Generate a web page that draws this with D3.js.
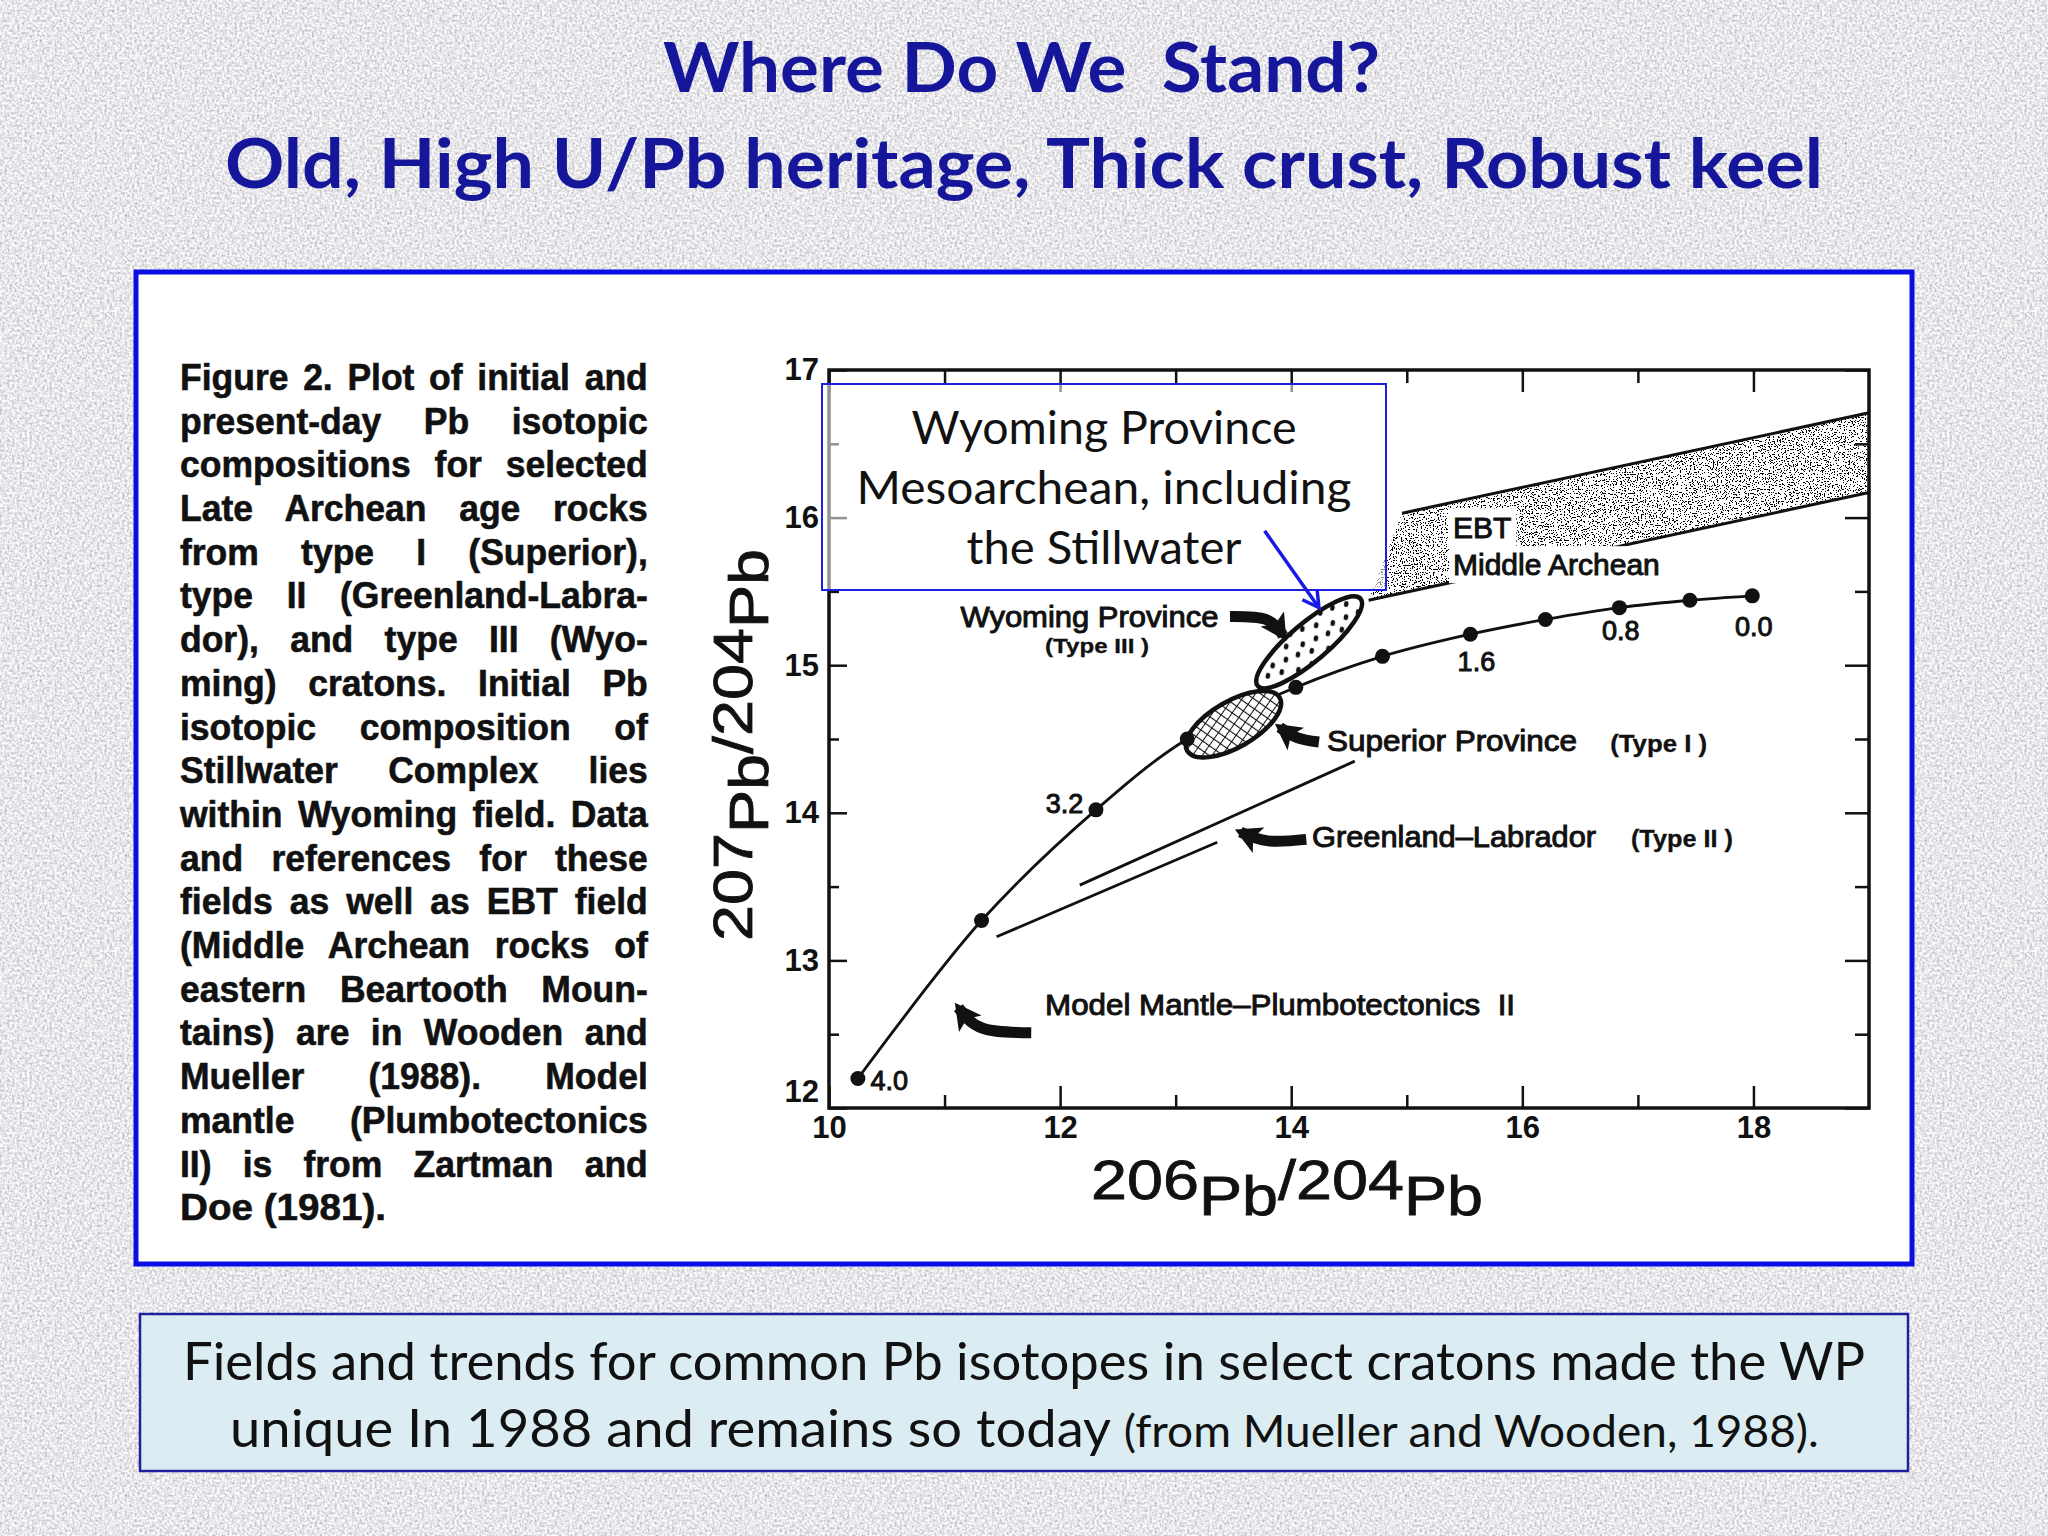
<!DOCTYPE html>
<html>
<head>
<meta charset="utf-8">
<script src="https://cdn.jsdelivr.net/npm/d3@7"></script>
<style>
  body { margin: 0; background: #d4d4d9; }
  svg { display: block; }
</style>
</head>
<body>
<div id="slide"></div>
<script>
// Slide texts
var titleLines = ["Where Do We  Stand?", "Old, High U/Pb heritage, Thick crust, Robust keel"];
var calloutLines = ["Wyoming Province", "Mesoarchean, including", "the Stillwater"];
var noteLine1 = "Fields and trends for common Pb isotopes in select cratons made the WP";
var noteLine2a = "unique In 1988 and remains so today ";
var noteLine2b = "(from Mueller and Wooden, 1988).";
var captionLines = [
  "Figure 2. Plot of initial and",
  "present-day Pb isotopic",
  "compositions for selected",
  "Late Archean age rocks",
  "from type I (Superior),",
  "type II (Greenland-Labra-",
  "dor), and type III (Wyo-",
  "ming) cratons. Initial Pb",
  "isotopic composition of",
  "Stillwater Complex lies",
  "within Wyoming field. Data",
  "and references for these",
  "fields as well as EBT field",
  "(Middle Archean rocks of",
  "eastern Beartooth Moun-",
  "tains) are in Wooden and",
  "Mueller (1988). Model",
  "mantle (Plumbotectonics",
  "II) is from Zartman and",
  "Doe (1981)."
];

// Axis ticks
var xTickValues = [10, 12, 14, 16, 18];
var xMinorValues = [11, 13, 15, 17];
var yTickValues = [12, 13, 14, 15, 16, 17];
var yMinorValues = [12.5, 13.5, 14.5, 15.5, 16.5];

// Model mantle (Plumbotectonics II) growth curve, ages in Ga
var mantleAge = [4.0, 3.6, 3.2, 2.8, 2.4, 2.0, 1.6, 1.2, 0.8, 0.4, 0.0];
var mantle206 = [10.25, 11.32, 12.31, 13.10, 14.04, 14.79, 15.55, 16.20, 16.84, 17.45, 17.99];
var mantle207 = [12.20, 13.27, 14.02, 14.50, 14.85, 15.06, 15.21, 15.31, 15.39, 15.44, 15.47];

// EBT (Middle Archean) field edges
var ebtUpper206 = [14.96, 19.0];
var ebtUpper207 = [16.03, 16.71];
var ebtLower206 = [14.67, 19.0];
var ebtLower207 = [15.44, 16.17];

// Greenland-Labrador trends
var glUpper206 = [12.17, 14.55];
var glUpper207 = [13.51, 14.35];
var glLower206 = [11.45, 13.36];
var glLower207 = [13.16, 13.80];

// Fields, ends of the long axis
var wyoming206 = [13.71, 14.60];
var wyoming207 = [14.86, 15.45];
var superior206 = [13.10, 13.90];
var superior207 = [14.42, 14.78];

var svgWidth = 2048;
var svgHeight = 1536;

var svg = d3.select("#slide")
  .append("svg")
  .attr("width", svgWidth)
  .attr("height", svgHeight);

var defs = svg.append("defs");

// granite background
var grain = defs.append("filter").attr("id", "grain").attr("x", 0).attr("y", 0).attr("width", 1).attr("height", 1);
grain.append("feTurbulence").attr("type", "fractalNoise").attr("baseFrequency", 0.4).attr("numOctaves", 3).attr("seed", 3);
grain.append("feColorMatrix").attr("type", "matrix")
  .attr("values", "1 0 0 0 0  1 0 0 0 0  1 0 0 0 0  0 0 0 0 1");
var ct = grain.append("feComponentTransfer");
ct.append("feFuncR").attr("type", "linear").attr("slope", 0.95).attr("intercept", 0.33);
ct.append("feFuncG").attr("type", "linear").attr("slope", 0.95).attr("intercept", 0.33);
ct.append("feFuncB").attr("type", "linear").attr("slope", 0.92).attr("intercept", 0.37);

// stipple for EBT
var stip = defs.append("filter").attr("id", "stipple").attr("x", 0).attr("y", 0).attr("width", 1).attr("height", 1);
stip.append("feTurbulence").attr("type", "fractalNoise").attr("baseFrequency", 0.75).attr("numOctaves", 1).attr("seed", 11).attr("result", "n");
stip.append("feColorMatrix").attr("in", "n").attr("type", "matrix")
  .attr("values", "0 0 0 0 0  0 0 0 0 0  0 0 0 0 0  1 0 0 0 0").attr("result", "a");
stip.append("feComponentTransfer").attr("in", "a").attr("result", "dots")
  .append("feFuncA").attr("type", "discrete").attr("tableValues", "0 0 0 0 0 0 1 1 1 1");
stip.append("feComposite").attr("in", "dots").attr("in2", "SourceGraphic").attr("operator", "in");

// dotted fill for Wyoming
var dotPat = defs.append("pattern").attr("id", "wyoDots").attr("patternUnits", "userSpaceOnUse")
  .attr("width", 26).attr("height", 26).attr("patternTransform", "rotate(-40)");
dotPat.append("rect").attr("width", 26).attr("height", 26).attr("fill", "#fff");
[[5, 6], [18, 4], [12, 17], [23, 20]].forEach(function(p) {
  dotPat.append("ellipse").attr("cx", p[0]).attr("cy", p[1]).attr("rx", 3).attr("ry", 2.3).attr("fill", "#111");
});

// cross-hatch for Superior
var hatch = defs.append("pattern").attr("id", "hatch").attr("patternUnits", "userSpaceOnUse")
  .attr("width", 8).attr("height", 8).attr("patternTransform", "rotate(-25)");
hatch.append("rect").attr("width", 8).attr("height", 8).attr("fill", "#fff");
hatch.append("path").attr("d", "M0,0H8M0,0V8").attr("stroke", "#111").attr("stroke-width", 2.2);

defs.append("marker").attr("id", "blackHead").attr("markerUnits", "userSpaceOnUse")
  .attr("markerWidth", 32).attr("markerHeight", 32).attr("refX", 20).attr("refY", 14)
  .attr("orient", "auto").append("path").attr("d", "M0,0 L26,14 L0,28 L6,14 z").attr("fill", "#111");
defs.append("marker").attr("id", "blueHead").attr("markerUnits", "userSpaceOnUse")
  .attr("markerWidth", 30).attr("markerHeight", 30).attr("refX", 18).attr("refY", 10)
  .attr("orient", "auto").append("path").attr("d", "M2,1 L18,10 L2,19")
  .attr("fill", "none").attr("stroke", "#1a1ae8").attr("stroke-width", 3.5);

svg.append("rect").attr("width", svgWidth).attr("height", svgHeight).attr("filter", "url(#grain)");

function fit(sel, w) {
  sel.attr("textLength", w).attr("lengthAdjust", "spacingAndGlyphs");
}

// Title
var titleY = [92, 188];
var titleX = [[663, 717], [225, 1598]];
titleLines.forEach(function(t, i) {
  svg.append("text")
    .attr("x", titleX[i][0]).attr("y", titleY[i])
    .style("font-family", "Lato, 'Open Sans', sans-serif")
    .style("font-weight", "bold")
    .style("font-size", "68px")
    .attr("fill", "#16169a")
    .attr("xml:space", "preserve")
    .text(t)
    .call(fit, titleX[i][1]);
});

// white panel
svg.append("rect")
  .attr("x", 136).attr("y", 272).attr("width", 1776).attr("height", 992)
  .attr("fill", "#fff").attr("stroke", "#0c0ce4").attr("stroke-width", 5);

// Caption (justified)
var capX = 180, capW = 468, capY0 = 390, capStep = 43.7, capScale = 0.96;
captionLines.forEach(function(t, i) {
  var last = i === captionLines.length - 1;
  var txt = svg.append("text")
    .attr("x", capX).attr("y", capY0 + i * capStep)
    .style("font-family", "'Liberation Sans', Arial, sans-serif")
    .style("font-weight", "bold")
    .style("font-size", "37px")
    .attr("fill", "#111")
    .attr("stroke", "#111").attr("stroke-width", 0.6)
    .text(t);
  var natural = txt.node().getComputedTextLength();
  var target = last ? 206 : capW;
  var gaps = t.split(" ").length - 1;
  var squeezed = natural * capScale;
  if (!last && squeezed < target && gaps > 0) {
    txt.attr("transform", "translate(" + capX + ",0) scale(" + capScale + ",1) translate(" + (-capX) + ",0)")
      .style("word-spacing", ((target - squeezed) / gaps / capScale) + "px");
  } else {
    txt.call(fit, target);
  }
});

// Chart
var x = d3.scaleLinear().domain([10, 19]).range([829, 1869]);
var y = d3.scaleLinear().domain([12, 17]).range([1108, 370]);

var plot = svg.append("g");
var figFont = "'Liberation Sans', Arial, sans-serif";

// EBT band
var ebtPoly = [
  [ebtUpper206[0], ebtUpper207[0]], [ebtUpper206[1], ebtUpper207[1]],
  [ebtLower206[1], ebtLower207[1]], [ebtLower206[0], ebtLower207[0]]
];
plot.append("path")
  .attr("d", "M" + ebtPoly.map(function(p) { return x(p[0]) + "," + y(p[1]); }).join("L") + "Z")
  .attr("fill", "#222")
  .attr("filter", "url(#stipple)");
plot.append("line")
  .attr("x1", x(ebtUpper206[0])).attr("y1", y(ebtUpper207[0]))
  .attr("x2", x(ebtUpper206[1])).attr("y2", y(ebtUpper207[1]))
  .attr("stroke", "#111").attr("stroke-width", 3);
plot.append("line")
  .attr("x1", x(ebtLower206[0])).attr("y1", y(ebtLower207[0]))
  .attr("x2", x(ebtLower206[1])).attr("y2", y(ebtLower207[1]))
  .attr("stroke", "#111").attr("stroke-width", 3);

// label with cleared background
function clearLabel(txt, pad) {
  var b = txt.node().getBBox();
  plot.insert("rect", function() { return txt.node(); })
    .attr("x", b.x - pad).attr("y", b.y - pad + 2)
    .attr("width", b.width + 2 * pad).attr("height", b.height + 2 * pad - 4)
    .attr("fill", "#fff");
}

function figLabel(x0, y0, t, size, anchor, weight) {
  return plot.append("text")
    .attr("x", x0).attr("y", y0)
    .attr("text-anchor", anchor || "start")
    .style("font-family", figFont)
    .style("font-size", size + "px")
    .style("font-weight", weight || "normal")
    .attr("fill", "#111")
    .attr("stroke", "#111").attr("stroke-width", weight === "bold" ? 0.3 : 1)
    .attr("xml:space", "preserve")
    .text(t);
}

var ebtText = figLabel(x(15.40), y(15.86), "EBT", 30);
clearLabel(ebtText, 5);
var maText = figLabel(x(15.40), y(15.61), "Middle Archean", 30);
clearLabel(maText, 4);

// axes
var bottomAxis = d3.axisBottom(x).tickValues(xTickValues).tickSize(-22).tickPadding(8).tickFormat(d3.format("d"));
var bottomMinor = d3.axisBottom(x).tickValues(xMinorValues).tickSize(-13).tickFormat("");
var topAxis = d3.axisTop(x).tickValues(xTickValues).tickSize(-22).tickFormat("");
var topMinor = d3.axisTop(x).tickValues(xMinorValues).tickSize(-13).tickFormat("");
var leftAxis = d3.axisLeft(y).tickValues(yTickValues).tickSize(-18).tickPadding(10).tickFormat(d3.format("d"));
var leftMinor = d3.axisLeft(y).tickValues(yMinorValues).tickSize(-10).tickFormat("");
var rightAxis = d3.axisRight(y).tickValues(yTickValues).tickSize(-24).tickFormat("");
var rightMinor = d3.axisRight(y).tickValues(yMinorValues).tickSize(-14).tickFormat("");

function styleAxis(g) {
  g.select(".domain").remove();
  g.selectAll(".tick line").attr("stroke", "#111").attr("stroke-width", 2.5);
  g.selectAll(".tick text")
    .style("font-family", figFont).style("font-size", "31px").style("font-weight", "bold")
    .attr("fill", "#111");
}

plot.append("g").attr("transform", "translate(0,1108)").call(bottomAxis).call(styleAxis);
plot.append("g").attr("transform", "translate(0,1108)").call(bottomMinor).call(styleAxis);
plot.append("g").attr("transform", "translate(0,370)").call(topAxis).call(styleAxis);
plot.append("g").attr("transform", "translate(0,370)").call(topMinor).call(styleAxis);
var leftG = plot.append("g").attr("transform", "translate(829,0)").call(leftAxis).call(styleAxis);
plot.append("g").attr("transform", "translate(829,0)").call(leftMinor).call(styleAxis);
plot.append("g").attr("transform", "translate(1869,0)").call(rightAxis).call(styleAxis);
plot.append("g").attr("transform", "translate(1869,0)").call(rightMinor).call(styleAxis);
leftG.selectAll(".tick text").filter(function(d) { return d === 12; }).attr("dy", "-0.2em");

plot.append("rect")
  .attr("x", x(10)).attr("y", y(17))
  .attr("width", x(19) - x(10)).attr("height", y(12) - y(17))
  .attr("fill", "none").attr("stroke", "#111").attr("stroke-width", 3.5);

// axis titles
var xTitle = svg.append("text")
  .attr("x", 1287).attr("y", 1199)
  .attr("text-anchor", "middle")
  .style("font-family", figFont).style("font-size", "56px")
  .attr("fill", "#111").attr("stroke", "#111").attr("stroke-width", 0.8);
xTitle.append("tspan").text("206");
xTitle.append("tspan").attr("dy", "0.28em").text("Pb");
xTitle.append("tspan").attr("dy", "-0.28em").text("/204");
xTitle.append("tspan").attr("dy", "0.28em").text("Pb");
xTitle.call(fit, 392);

var yTitle = svg.append("text")
  .attr("transform", "translate(752,745) rotate(-90)")
  .attr("text-anchor", "middle")
  .style("font-family", figFont).style("font-size", "56px")
  .attr("fill", "#111").attr("stroke", "#111").attr("stroke-width", 0.8);
yTitle.append("tspan").text("207");
yTitle.append("tspan").attr("dy", "0.28em").text("Pb");
yTitle.append("tspan").attr("dy", "-0.28em").text("/204");
yTitle.append("tspan").attr("dy", "0.28em").text("Pb");
yTitle.call(fit, 392);

// Greenland-Labrador trends
[[glUpper206, glUpper207], [glLower206, glLower207]].forEach(function(l) {
  plot.append("line")
    .attr("x1", x(l[0][0])).attr("y1", y(l[1][0]))
    .attr("x2", x(l[0][1])).attr("y2", y(l[1][1]))
    .attr("stroke", "#111").attr("stroke-width", 2.8);
});

// mantle curve
var mantle = mantleAge.map(function(a, i) { return { age: a, x: mantle206[i], y: mantle207[i] }; });
var curveLine = d3.line()
  .x(function(d) { return x(d.x); })
  .y(function(d) { return y(d.y); })
  .curve(d3.curveCatmullRom.alpha(0.5));
plot.append("path").datum(mantle)
  .attr("d", curveLine)
  .attr("fill", "none").attr("stroke", "#111").attr("stroke-width", 2.8);

// fields
function drawField(xs, ys, halfWidth, fill) {
  var x1 = x(xs[0]), y1 = y(ys[0]), x2 = x(xs[1]), y2 = y(ys[1]);
  var cx = (x1 + x2) / 2, cy = (y1 + y2) / 2;
  var len = Math.sqrt((x2 - x1) * (x2 - x1) + (y2 - y1) * (y2 - y1));
  var ang = Math.atan2(y2 - y1, x2 - x1) * 180 / Math.PI;
  plot.append("ellipse")
    .attr("transform", "translate(" + cx + "," + cy + ") rotate(" + ang + ")")
    .attr("rx", len / 2).attr("ry", halfWidth)
    .attr("fill", fill).attr("stroke", "#111").attr("stroke-width", 4.5);
}
drawField(superior206, superior207, 23, "url(#hatch)");
drawField(wyoming206, wyoming207, 19, "url(#wyoDots)");

plot.selectAll(".mantle-dot")
  .data(mantle)
  .enter()
  .append("circle")
  .attr("class", "mantle-dot")
  .attr("cx", function(d) { return x(d.x); })
  .attr("cy", function(d) { return y(d.y); })
  .attr("r", 7.5)
  .attr("fill", "#111");

// age labels on the curve
figLabel(x(10.36), y(12.12), "4.0", 27);
figLabel(x(12.20), y(14.00), "3.2", 27, "end");
figLabel(x(15.44), y(14.96), "1.6", 27);
figLabel(x(16.69), y(15.17), "0.8", 27);
figLabel(x(17.84), y(15.20), "0.0", 27);

// field labels
figLabel(x(13.37), y(15.26), "Wyoming Province", 30, "end").call(fit, 258);
figLabel(x(12.32), y(15.08), "(Type III )", 21, "middle", "bold").call(fit, 104);
figLabel(x(14.31), y(14.42), "Superior Province", 30).call(fit, 250);
figLabel(x(16.76), y(14.41), "(Type I )", 23, "start", "bold").call(fit, 97);
figLabel(x(14.18), y(13.77), "Greenland\u2013Labrador", 30).call(fit, 284);
figLabel(x(16.94), y(13.77), "(Type II )", 23, "start", "bold").call(fit, 102);
figLabel(x(11.87), y(12.63), "Model Mantle\u2013Plumbotectonics  II", 30).call(fit, 470);

// pointer arrows
var arrowLine = d3.line()
  .x(function(d) { return x(d[0]); })
  .y(function(d) { return y(d[1]); })
  .curve(d3.curveNatural);
[
  [[13.47, 15.33], [13.78, 15.31], [13.93, 15.20]],
  [[14.24, 14.48], [14.05, 14.51], [13.90, 14.58]],
  [[14.13, 13.82], [13.80, 13.81], [13.56, 13.87]],
  [[11.75, 12.51], [11.33, 12.54], [11.12, 12.68]]
].forEach(function(a) {
  plot.append("path")
    .attr("d", arrowLine(a))
    .attr("fill", "none").attr("stroke", "#111").attr("stroke-width", 11)
    .attr("marker-end", "url(#blackHead)");
});

// callout box
svg.append("rect")
  .attr("x", 822).attr("y", 384).attr("width", 564).attr("height", 206)
  .attr("fill", "#fff").attr("fill-opacity", 0.55)
  .attr("stroke", "#1f1fe0").attr("stroke-width", 2);
var calloutY = [444, 504, 564];
var calloutW = [385, 495, 275];
calloutLines.forEach(function(t, i) {
  svg.append("text")
    .attr("x", 1104).attr("y", calloutY[i])
    .attr("text-anchor", "middle")
    .style("font-family", "Lato, 'Open Sans', sans-serif")
    .style("font-size", "46px")
    .attr("fill", "#111")
    .text(t)
    .call(fit, calloutW[i]);
});
svg.append("line")
  .attr("x1", x(13.77)).attr("y1", y(15.91))
  .attr("x2", x(14.24)).attr("y2", y(15.39))
  .attr("stroke", "#1a1ae8").attr("stroke-width", 3.5)
  .attr("marker-end", "url(#blueHead)");

// bottom note
svg.append("rect")
  .attr("x", 140).attr("y", 1314).attr("width", 1768).attr("height", 157)
  .attr("fill", "#dbedf2").attr("stroke", "#20209a").attr("stroke-width", 2.5);
svg.append("text")
  .attr("x", 183).attr("y", 1380)
  .style("font-family", "Lato, 'Open Sans', sans-serif")
  .style("font-size", "52px")
  .attr("fill", "#111")
  .text(noteLine1)
  .call(fit, 1682);
var note2 = svg.append("text")
  .attr("x", 230).attr("y", 1447)
  .style("font-family", "Lato, 'Open Sans', sans-serif")
  .style("font-size", "52px")
  .attr("fill", "#111")
  .attr("xml:space", "preserve");
note2.append("tspan").text(noteLine2a);
note2.append("tspan").style("font-size", "44px").text(noteLine2b);
note2.call(fit, 1589);
</script>
</body>
</html>
